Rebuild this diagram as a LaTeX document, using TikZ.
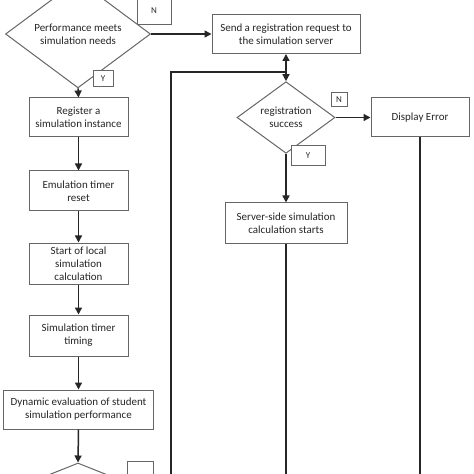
\documentclass[tikz,border=0pt]{standalone}
\usepackage{fontspec}
\setmainfont{Carlito}
\usetikzlibrary{shapes.geometric,arrows.meta}
\begin{document}
\begin{tikzpicture}[x=1bp,y=-1bp,
  box/.style={draw=black!60,line width=1bp,fill=white,align=center,inner sep=1bp,font=\fontsize{11}{13}\selectfont,text=black!85},
  dia/.style={diamond,draw=black!60,line width=1bp,fill=white,align=center,inner sep=0pt,font=\fontsize{11}{13}\selectfont,text=black!85},
  tag/.style={draw=black!60,line width=1bp,fill=white,inner sep=0pt,font=\fontsize{9}{10}\selectfont,text=black!85},
  conn/.style={draw=black!85,line width=1.5bp},
  arr/.style={conn,-{Triangle[length=7bp,width=7bp]}}]
\useasboundingbox (0,0) rectangle (474,474);
\clip (0,0) rectangle (474,474);
\fill[white] (0,0) rectangle (474,474);
% nodes
\node[dia,minimum width=145bp,minimum height=58bp] (d1) at (78,34) {Performance meets\\simulation needs};
\node[tag,minimum width=34bp,minimum height=28bp] (tN1) at (154,11) {N};
\node[box,minimum width=148bp,minimum height=39bp] (send) at (286,34) {Send a registration request to\\the simulation server};
\node[tag,minimum width=20bp,minimum height=16bp] (tY1) at (103,79) {Y};
\node[box,minimum width=99bp,minimum height=39bp] (reg) at (78.5,117.5) {Register a\\simulation instance};
\node[box,minimum width=99bp,minimum height=40bp] (emu) at (78.5,191) {Emulation timer\\reset};
\node[box,minimum width=99bp,minimum height=41bp] (start) at (78.5,263.5) {Start of local\\simulation\\calculation};
\node[box,minimum width=99bp,minimum height=41bp] (simt) at (78.5,335.5) {Simulation timer\\timing};
\node[box,minimum width=149bp,minimum height=39bp] (dyn) at (78.5,409.5) {Dynamic evaluation of student\\simulation performance};
\node[dia,minimum width=145bp,minimum height=58bp] (d3) at (78,492) {};
\node[tag,minimum width=26bp,minimum height=28bp] (tB) at (140,475) {};
\node[dia,minimum width=98bp,minimum height=59bp] (d2) at (286,117.5) {registration\\success};
\node[tag,minimum width=16bp,minimum height=14bp] (tN2) at (339,100) {N};
\node[box,minimum width=98bp,minimum height=39bp] (err) at (420,117.5) {Display Error};
\node[tag,minimum width=34bp,minimum height=20bp] (tY2) at (308,156) {Y};
\node[box,minimum width=122bp,minimum height=40bp] (srv) at (286,223) {Server-side simulation\\calculation starts};
% coordinates
\coordinate (top) at (78,-5);
\coordinate (junc) at (286,72);
\coordinate (corner) at (171,72);
\coordinate (loopbot) at (171,480);
\coordinate (srvbot) at (286,480);
\coordinate (errbot) at (420,480);
% connectors
\draw[conn] (top) -- (d1.north);
\draw[arr] (d1.east) -- (send.west);
\draw[arr] (d1.south) -- (reg.north);
\draw[arr] (reg.south) -- (emu.north);
\draw[arr] (emu.south) -- (start.north);
\draw[arr] (start.south) -- (simt.north);
\draw[arr] (simt.south) -- (dyn.north);
\draw[arr] (dyn.south) -- (d3.north);
\draw[conn] (loopbot) -- (corner) -- (junc);
\draw[arr] (junc) -- (send.south);
\draw[arr] (junc) -- (d2.north);
\draw[arr] (d2.east) -- (err.west);
\draw[arr] (d2.south) -- (srv.north);
\draw[conn] (srv.south) -- (srvbot);
\draw[conn] (err.south) -- (errbot);
\end{tikzpicture}
\end{document}
